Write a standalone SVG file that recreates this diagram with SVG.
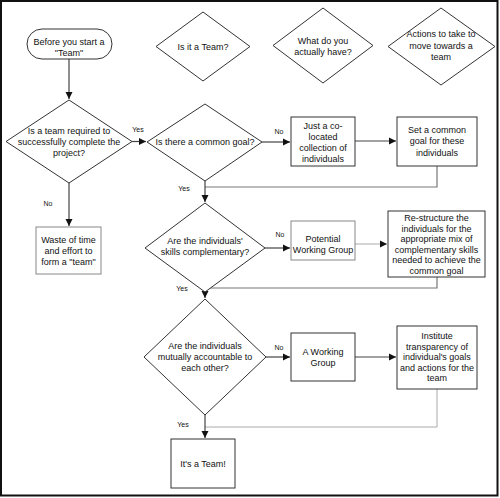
<svg xmlns="http://www.w3.org/2000/svg" width="500" height="498" viewBox="0 0 500 498">
<defs>
<style>
text{font-family:"Liberation Sans",Arial,sans-serif;font-size:9px;fill:#111;text-anchor:middle}
.lbl{font-size:7px}
.shape{fill:#fff;stroke:#333;stroke-width:1}
.shape2{fill:#fff;stroke:#888;stroke-width:1}
.c{fill:none;stroke:#444;stroke-width:1.2}
.c2{fill:none;stroke:#aaa;stroke-width:1}
.c3{fill:none;stroke:#777;stroke-width:1.2}
</style>
<marker id="ah" markerWidth="8" markerHeight="8" refX="7" refY="4" orient="auto" markerUnits="userSpaceOnUse">
<path d="M0,0.5 L7,4 L0,7.5 Z" fill="#111"/>
</marker>
</defs>
<rect x="0" y="0" width="500" height="498" fill="#fff"/>
<rect x="1" y="1" width="496.5" height="494.5" fill="none" stroke="#111" stroke-width="2"/>

<g id="connectors">
<path class="c" d="M69,59 V99" marker-end="url(#ah)"/>
<path class="c" d="M69,183 V226" marker-end="url(#ah)"/>
<path class="c" d="M132,141.5 H146" marker-end="url(#ah)"/>
<path class="c" d="M262,142 H290" marker-end="url(#ah)"/>
<path class="c" d="M355,141 H396" marker-end="url(#ah)"/>
<path class="c3" d="M437,166 V187 H205"/>
<path class="c" d="M205,181 V202" marker-end="url(#ah)"/>
<path class="c" d="M265,248 H290" marker-end="url(#ah)"/>
<path class="c2" d="M355,244 H387" marker-end="url(#ah)"/>
<path class="c3" d="M437,277 V288 H205"/>
<path class="c" d="M205,292 V298" marker-end="url(#ah)"/>
<path class="c" d="M266,357 H290" marker-end="url(#ah)"/>
<path class="c" d="M355,357 H396" marker-end="url(#ah)"/>
<path class="c2" d="M437,389 V427 H205"/>
<path class="c" d="M205,415 V438" marker-end="url(#ah)"/>
<text class="lbl" x="138" y="132">Yes</text>
<text class="lbl" x="48" y="206">No</text>
<text class="lbl" x="279" y="134">No</text>
<text class="lbl" x="184" y="191">Yes</text>
<text class="lbl" x="280" y="237">No</text>
<text class="lbl" x="182" y="291">Yes</text>
<text class="lbl" x="279" y="350">No</text>
<text class="lbl" x="183" y="427">Yes</text>
</g>

<g id="h1">
<polygon class="shape" points="203,12 250,46.5 203,81 156,46.5"/>
<text x="203" y="49.5">Is it a Team?</text>
</g>
<g id="h2">
<polygon class="shape" points="323,8 373,45.5 323,83 273,45.5"/>
<text x="323" y="44">What do you</text>
<text x="323" y="55">actually have?</text>
</g>
<g id="h3">
<polygon class="shape" points="441,8 495,46.5 441,85 388,46.5"/>
<text x="441" y="37">Actions to take to</text>
<text x="441" y="48.5">move towards a</text>
<text x="441" y="60">team</text>
</g>

<g id="start">
<rect class="shape" x="27" y="29" width="85" height="30" rx="15" ry="15"/>
<text x="69" y="44.5">Before you start a</text>
<text x="69" y="55.5">"Team"</text>
</g>
<g id="d1">
<polygon class="shape" points="69,100 132,141.5 69,183 6,141.5"/>
<text x="69" y="134">Is a team required to</text>
<text x="69" y="145">successfully complete the</text>
<text x="69" y="156">project?</text>
</g>
<g id="waste">
<rect class="shape2" x="36" y="227" width="65" height="47"/>
<text x="68.5" y="243">Waste of time</text>
<text x="68.5" y="254">and effort to</text>
<text x="68.5" y="265">form a "team"</text>
</g>
<g id="d2">
<polygon class="shape" points="205,104 262,142 205,181 147,142"/>
<text x="205" y="145">Is there a common goal?</text>
</g>
<g id="colocated">
<rect class="shape" x="291" y="117" width="64" height="49"/>
<text x="323" y="129">Just a co-</text>
<text x="323" y="140">located</text>
<text x="323" y="151">collection of</text>
<text x="323" y="162">individuals</text>
</g>
<g id="setgoal">
<rect class="shape" x="397" y="117" width="80" height="49"/>
<text x="437" y="133">Set a common</text>
<text x="437" y="144">goal for these</text>
<text x="437" y="155.5">individuals</text>
</g>
<g id="d3">
<polygon class="shape" points="205,203 265,248 205,292 145,248"/>
<text x="205" y="244">Are the individuals'</text>
<text x="205" y="255">skills complementary?</text>
</g>
<g id="potential">
<rect class="shape2" x="291" y="221" width="64" height="39"/>
<text x="323" y="242">Potential</text>
<text x="323" y="253">Working Group</text>
</g>
<g id="restructure">
<rect class="shape" x="388" y="211" width="97" height="66"/>
<text x="436.5" y="221">Re-structure the</text>
<text x="436.5" y="231.5">individuals for the</text>
<text x="436.5" y="242">appropriate mix of</text>
<text x="436.5" y="252.5">complementary skills</text>
<text x="436.5" y="263">needed to achieve the</text>
<text x="436.5" y="273.5">common goal</text>
</g>
<g id="d4">
<polygon class="shape" points="205,299 266,357 205,415 144,357"/>
<text x="205" y="349">Are the individuals</text>
<text x="205" y="360">mutually accountable to</text>
<text x="205" y="371">each other?</text>
</g>
<g id="working">
<rect class="shape" x="291" y="333" width="64" height="48"/>
<text x="323" y="355">A Working</text>
<text x="323" y="365.5">Group</text>
</g>
<g id="institute">
<rect class="shape" x="397" y="326" width="80" height="63"/>
<text x="437" y="339">Institute</text>
<text x="437" y="349.5">transparency of</text>
<text x="437" y="360">individual's goals</text>
<text x="437" y="370.5">and actions for the</text>
<text x="437" y="381">team</text>
</g>
<g id="team">
<rect class="shape" x="171" y="439" width="64" height="49"/>
<text x="203" y="467">It's a Team!</text>
</g>
</svg>
